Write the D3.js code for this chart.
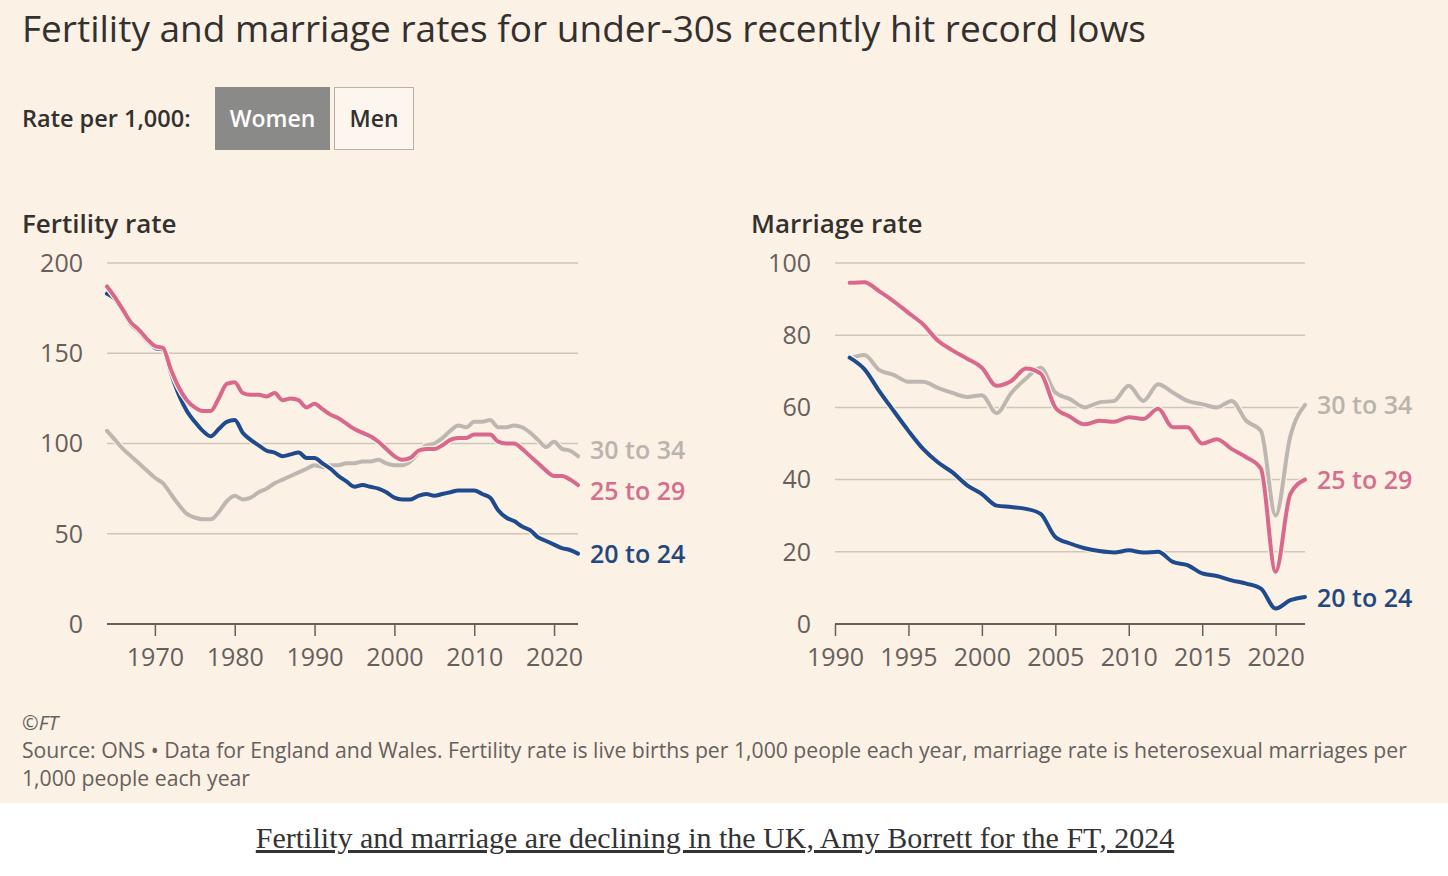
<!DOCTYPE html>
<html>
<head>
<meta charset="utf-8">
<script src="https://cdn.jsdelivr.net/npm/d3@7"></script>
<style>
  body { margin: 0; background: #ffffff; }
  svg text { font-family: "Open Sans", Lato, sans-serif; }
</style>
</head>
<body>
<svg id="chart" width="1448" height="876"></svg>
<script>
// fertility rate, women, per 1,000 (1964-2023)
const fertYears = d3.range(1964, 2024);
const fert20to24 = [183, 180, 173, 166, 162, 157, 153, 152, 139, 127, 118, 112, 107, 104, 108, 112, 113, 106, 102, 99,
  96, 95, 93, 94, 95, 92, 92, 89, 86, 82, 79, 76, 77, 76, 75, 73, 70, 69, 69, 71,
  72, 71, 72, 73, 74, 74, 74, 72, 70, 63, 59, 57, 54, 52, 48, 46, 44, 42, 41, 39];
const fert25to29 = [187, 181, 174, 167, 163, 158, 154, 153, 141, 131, 124, 120, 118, 118, 125, 133, 134, 128, 127, 127,
  126, 128, 124, 125, 124, 120, 122, 119, 116, 114, 111, 108, 106, 104, 101, 97, 93, 91, 92, 96,
  97, 97, 99, 102, 103, 103, 105, 105, 105, 101, 100, 100, 97, 93, 89, 85, 82, 82, 80, 77];
const fert30to34 = [107, 102, 97, 93, 89, 85, 81, 78, 72, 66, 61, 59, 58, 58, 62, 68, 71, 69, 70, 73,
  75, 78, 80, 82, 84, 86, 88, 87, 88, 88, 89, 89, 90, 90, 91, 89, 88, 88, 90, 95,
  99, 100, 103, 107, 110, 109, 112, 112, 113, 109, 109, 110, 109, 106, 102, 98, 101, 97, 96, 93];

// marriage rate, women, per 1,000 (1991-2022)
const marYears = d3.range(1991, 2023);
const mar20to24 = [73.8, 70.6, 64.6, 59, 53.5, 48.5, 44.8, 42, 38.4, 36, 32.8, 32.4, 31.9, 30.5, 24.1, 22.3,
  21, 20.2, 19.8, 20.4, 19.8, 20, 17.2, 16.3, 14, 13.3, 12.1, 11.2, 9.8, 4.3, 6.6, 7.5];
const mar25to29 = [94.5, 94.7, 92.2, 89.4, 86.2, 83, 78.5, 75.8, 73.5, 71, 66, 67.3, 70.8, 69.4, 60, 57.4,
  55.3, 56.3, 56, 57.3, 56.8, 59.6, 54.5, 54.5, 50, 51.2, 48.5, 46.2, 43, 14.5, 36, 40];
const mar30to34 = [73.5, 74.5, 70.4, 69, 67.1, 67.1, 65.4, 64, 62.9, 63.4, 58.4, 64, 68, 71, 64.1, 62.3,
  60, 61.4, 61.8, 66, 61.8, 66.4, 64.1, 61.8, 60.9, 60, 61.8, 56.3, 53.5, 30, 52, 60.7];

const seriesNames = ["30 to 34", "20 to 24", "25 to 29"];
const fertTicksY = [0, 50, 100, 150, 200];
const fertTicksX = [1970, 1980, 1990, 2000, 2010, 2020];
const marTicksY = [0, 20, 40, 60, 80, 100];
const marTicksX = [1990, 1995, 2000, 2005, 2010, 2015, 2020];

const colors = { "20 to 24": "#1f4b8e", "25 to 29": "#d8698c", "30 to 34": "#bdb7b1" };
const labelColors = { "20 to 24": "#23477f", "25 to 29": "#d46f8e", "30 to 34": "#bab4ae" };
const bg = "#fcf1e5";

const svg = d3.select("#chart");

// paper background
svg.append("rect")
    .attr("width", 1448)
    .attr("height", 803)
    .attr("fill", bg);

// title
svg.append("text")
    .attr("x", 22)
    .attr("y", 42)
    .style("font-size", "37px")
    .style("fill", "#33302e")
    .text("Fertility and marriage rates for under-30s recently hit record lows");

// switch buttons
svg.append("text")
    .attr("x", 22)
    .attr("y", 127)
    .style("font-size", "23.5px")
    .style("font-weight", "600")
    .style("fill", "#33302e")
    .text("Rate per 1,000:");

svg.append("rect")
    .attr("x", 215).attr("y", 87)
    .attr("width", 115).attr("height", 63)
    .attr("fill", "#8a8a88");
svg.append("text")
    .attr("x", 272.5).attr("y", 127)
    .attr("text-anchor", "middle")
    .style("font-size", "23px")
    .style("font-weight", "600")
    .style("fill", "#ffffff")
    .text("Women");

svg.append("rect")
    .attr("x", 334.5).attr("y", 87.5)
    .attr("width", 79).attr("height", 62)
    .attr("fill", "#fdf6ee")
    .attr("stroke", "#b8afa6");
svg.append("text")
    .attr("x", 374).attr("y", 127)
    .attr("text-anchor", "middle")
    .style("font-size", "23px")
    .style("font-weight", "600")
    .style("fill", "#33302e")
    .text("Men");

function drawPanel(opts) {
    const g = svg.append("g");
    const x = d3.scaleLinear().domain(opts.xDomain).range(opts.xRange);
    const y = d3.scaleLinear().domain(opts.yDomain).range([624, 263]);

    g.append("text")
        .attr("x", opts.titleX)
        .attr("y", 233)
        .style("font-size", "26px")
        .style("font-weight", "600")
        .style("fill", "#33302e")
        .text(opts.title);

    // gridlines
    g.selectAll(".grid")
        .data(opts.ticksY.filter(d => d !== 0))
        .join("line")
        .attr("x1", opts.xRange[0])
        .attr("x2", opts.xRange[1])
        .attr("y1", d => y(d))
        .attr("y2", d => y(d))
        .attr("stroke", "#cfc5bb")
        .attr("stroke-width", 1.5);

    // y labels
    g.selectAll(".ylab")
        .data(opts.ticksY)
        .join("text")
        .attr("x", opts.xRange[0] - 24)
        .attr("y", d => y(d))
        .attr("dy", "0.35em")
        .attr("text-anchor", "end")
        .style("font-size", "25px")
        .style("fill", "#66605c")
        .text(d => d);

    // x axis
    const xAxis = d3.axisBottom(x)
        .tickValues(opts.ticksX)
        .tickFormat(d3.format("d"))
        .tickSize(12)
        .tickPadding(12);
    const ax = g.append("g")
        .attr("transform", "translate(0,624)")
        .call(xAxis);
    ax.select(".domain")
        .attr("d", "M" + opts.xRange[0] + ",0H" + opts.xRange[1])
        .attr("stroke", "#66605c")
        .attr("stroke-width", 2);
    ax.selectAll(".tick line").attr("stroke", "#66605c").attr("stroke-width", 1.5);
    ax.selectAll(".tick text")
        .style("font-size", "25px")
        .style("font-family", "'Open Sans', sans-serif")
        .style("fill", "#66605c");

    const line = d3.line()
        .x((d, i) => x(opts.years[i]))
        .y(d => y(d))
        .curve(d3.curveMonotoneX);

    seriesNames.forEach(name => {
        const vals = opts.series[name];
        g.append("path")
            .attr("d", line(vals))
            .attr("fill", "none")
            .attr("stroke", bg)
            .attr("stroke-width", 6.5)
            .attr("stroke-linejoin", "round");
        g.append("path")
            .attr("d", line(vals))
            .attr("fill", "none")
            .attr("stroke", colors[name])
            .attr("stroke-width", 4)
            .attr("stroke-linejoin", "round")
            .attr("stroke-linecap", "round");

        // end label
        g.append("text")
            .attr("x", opts.xRange[1] + 12)
            .attr("y", y(vals[vals.length - 1]) + opts.labelDy[name])
            .attr("dy", "0.35em")
            .style("font-size", "25px")
            .style("font-weight", "600")
            .style("fill", labelColors[name])
            .text(name);
    });
}

drawPanel({
    title: "Fertility rate",
    titleX: 22,
    xDomain: [1964, 2023],
    xRange: [107, 578],
    yDomain: [0, 200],
    ticksY: fertTicksY,
    ticksX: fertTicksX,
    years: fertYears,
    series: { "20 to 24": fert20to24, "25 to 29": fert25to29, "30 to 34": fert30to34 },
    labelDy: { "20 to 24": 1, "25 to 29": 6, "30 to 34": -6 }
});

drawPanel({
    title: "Marriage rate",
    titleX: 751,
    xDomain: [1990, 2022],
    xRange: [835, 1305],
    yDomain: [0, 100],
    ticksY: marTicksY,
    ticksX: marTicksX,
    years: marYears,
    series: { "20 to 24": mar20to24, "25 to 29": mar25to29, "30 to 34": mar30to34 },
    labelDy: { "20 to 24": 1, "25 to 29": 1, "30 to 34": 0 }
});

// footer
svg.append("text")
    .attr("x", 22)
    .attr("y", 730)
    .style("font-size", "20px")
    .style("font-style", "italic")
    .style("fill", "#66605c")
    .text("©FT");

svg.append("text")
    .attr("x", 22)
    .attr("y", 758)
    .style("font-size", "21.2px")
    .style("fill", "#66605c")
    .text("Source: ONS \u2022 Data for England and Wales. Fertility rate is live births per 1,000 people each year, marriage rate is heterosexual marriages per");

svg.append("text")
    .attr("x", 22)
    .attr("y", 786)
    .style("font-size", "21.2px")
    .style("fill", "#66605c")
    .text("1,000 people each year");

// caption below
svg.append("text")
    .attr("x", 715)
    .attr("y", 848)
    .attr("text-anchor", "middle")
    .style("font-family", "'Liberation Serif', serif")
    .style("font-size", "30px")
    .style("text-decoration", "underline")
    .style("fill", "#333333")
    .text("Fertility and marriage are declining in the UK, Amy Borrett for the FT, 2024");
</script>
</body>
</html>
